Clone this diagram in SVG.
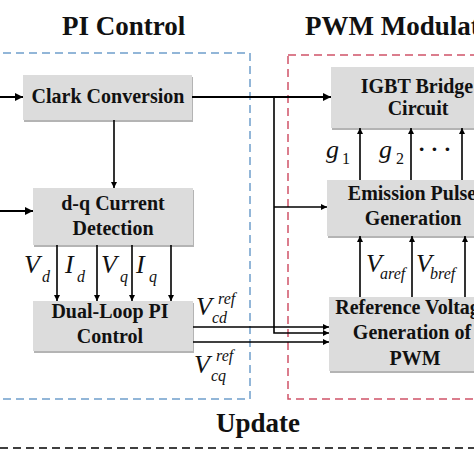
<svg xmlns="http://www.w3.org/2000/svg" width="474" height="474" viewBox="0 0 474 474">
<defs>
<marker id="ah" viewBox="0 0 10 10" refX="10" refY="5" markerWidth="4" markerHeight="4" orient="auto" markerUnits="strokeWidth">
<path d="M0,0 L10,5 L0,10 z" fill="#000"/>
</marker>
<style>
.box{fill:#dcdcdc}
.sh{fill:#b4b4b4}
.t{font-family:"Liberation Serif","Times New Roman",serif;font-weight:bold;font-size:20px;fill:#111;text-anchor:middle}
.title{font-family:"Liberation Serif","Times New Roman",serif;font-weight:bold;font-size:27px;fill:#111}
.m{font-family:"Liberation Serif","Times New Roman",serif;font-style:italic;font-size:26px;fill:#111}
.s{font-family:"Liberation Serif","Times New Roman",serif;font-style:italic;font-size:16px;fill:#111}
.su{font-family:"Liberation Serif","Times New Roman",serif;font-size:16px;fill:#111}
.c{stroke:#000;stroke-width:2;fill:none}
.c2{stroke:#000;stroke-width:1.6;fill:none}
</style>
</defs>
<rect width="474" height="474" fill="#fff"/>
<text class="title" x="62" y="35">PI Control</text>
<text class="title" x="305" y="35">PWM Modulation</text>
<rect x="-10" y="53" width="260" height="346" fill="none" stroke="#6f9fcb" stroke-width="1.5" stroke-dasharray="8 5"/>
<rect x="288" y="55" width="200" height="344" fill="none" stroke="#cf5368" stroke-width="1.5" stroke-dasharray="8 5"/>
<text class="title" x="258" y="432" text-anchor="middle">Update</text>
<line x1="0" y1="448" x2="474" y2="448" stroke="#000" stroke-width="1.6" stroke-dasharray="8 5"/>

<g id="clark">
<rect class="sh" x="24" y="77" width="169" height="45"/>
<rect class="box" x="23" y="75" width="169" height="45"/>
<text class="t" x="108" y="103">Clark Conversion</text>
</g>
<g id="dq">
<rect class="sh" x="34" y="190" width="160" height="57"/>
<rect class="box" x="33" y="188" width="160" height="57"/>
<text class="t" x="113" y="210">d-q Current</text>
<text class="t" x="113" y="235">Detection</text>
</g>
<g id="dualloop">
<rect class="sh" x="34" y="303" width="160" height="50"/>
<rect class="box" x="33" y="301" width="160" height="50"/>
<text class="t" x="110" y="318">Dual-Loop PI</text>
<text class="t" x="110" y="343">Control</text>
</g>
<g id="igbt">
<rect class="sh" x="332" y="69" width="180" height="61"/>
<rect class="box" x="331" y="67" width="180" height="61"/>
<text class="t" x="417" y="93">IGBT Bridge</text>
<text class="t" x="418" y="115">Circuit</text>
</g>
<g id="emission">
<rect class="sh" x="328" y="182" width="180" height="56"/>
<rect class="box" x="327" y="180" width="180" height="56"/>
<text class="t" x="412" y="200">Emission Pulse</text>
<text class="t" x="413" y="225">Generation</text>
</g>
<g id="refvolt">
<rect class="sh" x="330" y="299" width="180" height="74"/>
<rect class="box" x="329" y="297" width="180" height="74"/>
<text class="t" x="412" y="314">Reference Voltage</text>
<text class="t" x="412" y="339">Generation of</text>
<text class="t" x="415" y="365">PWM</text>
</g>

<g id="labels">
<text class="m" x="24" y="273">V</text><text class="s" x="42" y="282">d</text>
<text class="m" x="65" y="273">I</text><text class="s" x="77" y="282">d</text>
<text class="m" x="101" y="273">V</text><text class="s" x="120" y="282">q</text>
<text class="m" x="136" y="273">I</text><text class="s" x="149" y="282">q</text>
<text class="m" x="196" y="315">V</text><text class="s" x="218" y="304">ref</text><text class="s" x="212" y="323">cd</text>
<text class="m" x="194" y="373">V</text><text class="s" x="216" y="361">ref</text><text class="s" x="211" y="381">cq</text>
<text class="m" x="326" y="158">g</text><text class="su" x="342" y="164">1</text>
<text class="m" x="379" y="158">g</text><text class="su" x="396" y="164">2</text>
<text class="su" x="418" y="156" style="font-size:22px;font-weight:bold">· · ·</text>
<text class="m" x="366" y="272">V</text><text class="s" x="380" y="279">aref</text>
<text class="m" x="416" y="272">V</text><text class="s" x="430" y="279">bref</text>
</g>

<g id="connectors">
<line class="c" x1="0" y1="97" x2="23" y2="97" marker-end="url(#ah)"/>
<line class="c" x1="192" y1="97" x2="331" y2="97" marker-end="url(#ah)"/>
<polyline class="c2" points="274,97 274,333 329,333" marker-end="url(#ah)"/>
<line class="c2" x1="274" y1="207" x2="327" y2="207" marker-end="url(#ah)"/>
<line class="c2" x1="114" y1="120" x2="114" y2="188" marker-end="url(#ah)"/>
<line class="c" x1="0" y1="211" x2="33" y2="211" marker-end="url(#ah)"/>
<line class="c2" x1="57" y1="245" x2="57" y2="301" marker-end="url(#ah)"/>
<line class="c2" x1="97" y1="245" x2="97" y2="301" marker-end="url(#ah)"/>
<line class="c2" x1="132" y1="245" x2="132" y2="301" marker-end="url(#ah)"/>
<line class="c2" x1="171" y1="245" x2="171" y2="301" marker-end="url(#ah)"/>
<line class="c2" x1="193" y1="327" x2="329" y2="327" marker-end="url(#ah)"/>
<line class="c2" x1="193" y1="342" x2="329" y2="342" marker-end="url(#ah)"/>
<line class="c2" x1="360" y1="297" x2="360" y2="236" marker-end="url(#ah)"/>
<line class="c2" x1="412" y1="297" x2="412" y2="236" marker-end="url(#ah)"/>
<line class="c2" x1="465" y1="297" x2="465" y2="236" marker-end="url(#ah)"/>
<line class="c2" x1="360" y1="180" x2="360" y2="128" marker-end="url(#ah)"/>
<line class="c2" x1="411" y1="180" x2="411" y2="128" marker-end="url(#ah)"/>
<line class="c2" x1="462" y1="180" x2="462" y2="128" marker-end="url(#ah)"/>
</g>
</svg>
